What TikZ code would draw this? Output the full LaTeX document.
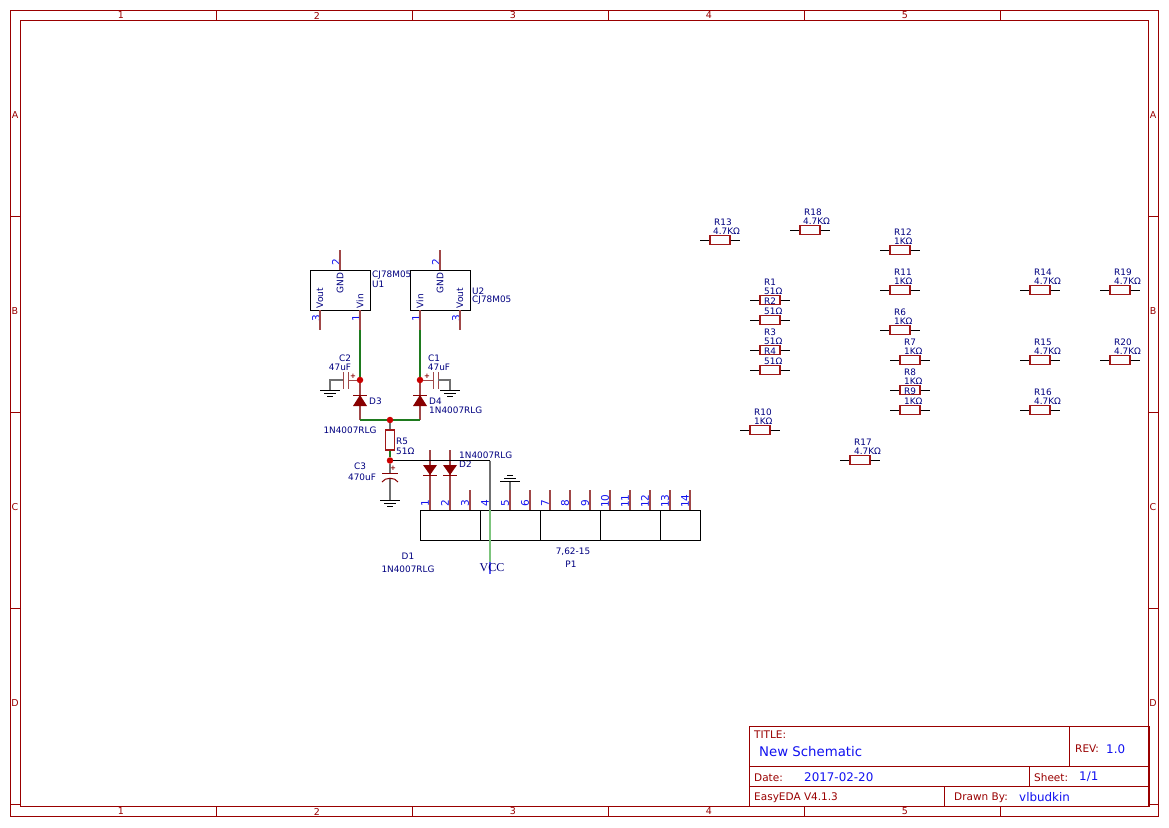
\documentclass[tikz,border=0pt]{standalone}
\usepackage{fontspec}
\setmainfont{DejaVu Sans}
\newfontfamily\vccfont{Liberation Serif}
\definecolor{framered}{HTML}{990000}
\definecolor{pinred}{HTML}{A04848}
\definecolor{partred}{HTML}{A01818}
\definecolor{diodered}{HTML}{880000}
\definecolor{wiregreen}{HTML}{1E7A1E}
\definecolor{wiregrey}{HTML}{707070}
\definecolor{vccgreen}{HTML}{7CC47C}
\definecolor{labelblue}{HTML}{000080}
\definecolor{pinblue}{HTML}{1010F0}
\tikzset{
  border/.style={draw=framered, line width=1pt},
  frametext/.style={text=framered, font=\fontsize{9.5}{11}\selectfont, inner sep=0pt},
  titletext/.style={text=framered, font=\fontsize{10.5}{12}\selectfont, inner sep=0pt, anchor=west},
  valuetext/.style={text=pinblue, font=\fontsize{11.9}{14}\selectfont, inner sep=0pt, anchor=west},
  lbl/.style={text=labelblue, font=\fontsize{8.9}{10}\selectfont, inner sep=0pt, anchor=west},
  clbl/.style={text=labelblue, font=\fontsize{8.9}{10}\selectfont, inner sep=0pt},
  rotlbl/.style={text=labelblue, font=\fontsize{9}{10}\selectfont, inner sep=0pt, rotate=90},
  pinnum/.style={text=pinblue, font=\fontsize{10.5}{12}\selectfont, inner sep=0pt, rotate=90},
  ic/.style={draw=black, line width=1pt, minimum width=60, minimum height=40, inner sep=0pt},
  slot/.style={draw=black, line width=1pt, minimum height=30, inner sep=0pt},
  res/.style={draw=partred, fill=white, line width=1.2pt, minimum width=20, minimum height=9, inner sep=0pt},
  vres/.style={draw=partred, fill=white, line width=1.2pt, minimum width=9, minimum height=20, inner sep=0pt},
  lead/.style={draw=black, line width=.8pt},
  pinline/.style={draw=pinred, line width=1.6pt},
  wire/.style={draw=wiregreen, line width=1.2pt},
  greywire/.style={draw=wiregrey, line width=1.4pt},
  blackwire/.style={draw=black, line width=.8pt},
  dot/.style={circle, fill=red!80!black, minimum size=6.5, inner sep=0pt},
  plate/.style={draw=pinred, line width=1pt},
  gnd/.style={draw=black, line width=.8pt},
  tri/.style={fill=diodered}
}
\begin{document}
\begin{tikzpicture}[x=1pt, y=-1pt]
  \useasboundingbox (0, 0) rectangle (1169, 827);

  % sheet frame
  \draw[border] (10, 10.5) rectangle (1158, 816.5);
  \draw[border] (20, 20.5) rectangle (1148.5, 806);
  \draw[border] (216, 10.5) -- (216, 20.5);
  \draw[border] (412, 10.5) -- (412, 20.5);
  \draw[border] (608, 10.5) -- (608, 20.5);
  \draw[border] (804, 10.5) -- (804, 20.5);
  \draw[border] (1000, 10.5) -- (1000, 20.5);
  \draw[border] (216, 806) -- (216, 816.5);
  \draw[border] (412, 806) -- (412, 816.5);
  \draw[border] (608, 806) -- (608, 816.5);
  \draw[border] (804, 806) -- (804, 816.5);
  \draw[border] (1000, 806) -- (1000, 816.5);
  \draw[border] (10, 216.5) -- (20, 216.5);
  \draw[border] (10, 412.5) -- (20, 412.5);
  \draw[border] (10, 608.5) -- (20, 608.5);
  \draw[border] (10, 804.5) -- (20, 804.5);
  \draw[border] (1148.5, 216.5) -- (1158, 216.5);
  \draw[border] (1148.5, 412.5) -- (1158, 412.5);
  \draw[border] (1148.5, 608.5) -- (1158, 608.5);
  \draw[border] (1148.5, 804.5) -- (1158, 804.5);

  \node[frametext] (t1) at (121, 15.5) {1};
  \node[frametext] (t2) at (317, 15.5) {2};
  \node[frametext] (t3) at (513, 15.5) {3};
  \node[frametext] (t4) at (709, 15.5) {4};
  \node[frametext] (t5) at (905, 15.5) {5};
  \node[frametext] (b1) at (121, 811.5) {1};
  \node[frametext] (b2) at (317, 811.5) {2};
  \node[frametext] (b3) at (513, 811.5) {3};
  \node[frametext] (b4) at (709, 811.5) {4};
  \node[frametext] (b5) at (905, 811.5) {5};
  \node[frametext] (la) at (15, 115) {A};
  \node[frametext] (lb) at (15, 311) {B};
  \node[frametext] (lc) at (15, 507) {C};
  \node[frametext] (ld) at (15, 703) {D};
  \node[frametext] (ra) at (1153, 115) {A};
  \node[frametext] (rb) at (1153, 311) {B};
  \node[frametext] (rc) at (1153, 507) {C};
  \node[frametext] (rd) at (1153, 703) {D};

  % title block
  \draw[border] (749, 726.5) rectangle (1149, 806);
  \draw[border] (749, 766.5) -- (1149, 766.5);
  \draw[border] (749, 786.5) -- (1149, 786.5);
  \draw[border] (1069, 726.5) -- (1069, 766.5);
  \draw[border] (1029, 766.5) -- (1029, 786.5);
  \draw[border] (944, 786.5) -- (944, 806);
  \node[titletext] (title) at (754, 735) {TITLE:};
  \node[valuetext, font=\fontsize{13.3}{15}\selectfont] (name) at (759, 752) {New Schematic};
  \node[titletext] (rev) at (1075, 749) {REV:};
  \node[valuetext] (revno) at (1106, 749) {1.0};
  \node[titletext] (date) at (754, 778) {Date:};
  \node[valuetext] (dateval) at (804, 777) {2017-02-20};
  \node[titletext] (sheet) at (1034, 778) {Sheet:};
  \node[valuetext] (sheetno) at (1079, 777) {1/1};
  \node[titletext] (eda) at (754, 798) {EasyEDA V4.1.3};
  \node[titletext] (drawn) at (954, 798) {Drawn By:};
  \node[valuetext] (author) at (1019, 797) {vlbudkin};

  % regulators
  \node[ic] (u1) at (340, 290) {};
  \node[ic] (u2) at (440, 290) {};
  \node[lbl] (u1v) at (372, 275) {CJ78M05};
  \node[lbl] (u1n) at (372, 284) {U1};
  \node[lbl] (u2n) at (472, 291) {U2};
  \node[lbl] (u2v) at (472, 300) {CJ78M05};
  \node[rotlbl] (u1gnd) at (340, 283) {GND};
  \node[rotlbl] (u1out) at (320, 298) {Vout};
  \node[rotlbl] (u1in) at (360, 301) {Vin};
  \node[rotlbl] (u2gnd) at (440, 283) {GND};
  \node[rotlbl] (u2in) at (420, 301) {Vin};
  \node[rotlbl] (u2out) at (460, 298) {Vout};
  \node[pinnum] (u1p2) at (336, 262) {2};
  \node[pinnum] (u1p3) at (316, 318) {3};
  \node[pinnum] (u1p1) at (356, 318) {1};
  \node[pinnum] (u2p2) at (436, 262) {2};
  \node[pinnum] (u2p1) at (416, 318) {1};
  \node[pinnum] (u2p3) at (456, 318) {3};
  \coordinate (u1a) at (340, 250);
  \coordinate (u1b) at (340, 270);
  \coordinate (u1c) at (320, 310);
  \coordinate (u1d) at (320, 330);
  \coordinate (u1e) at (360, 310);
  \coordinate (u1f) at (360, 330);
  \coordinate (u2a) at (440, 250);
  \coordinate (u2b) at (440, 270);
  \coordinate (u2c) at (420, 310);
  \coordinate (u2d) at (420, 330);
  \coordinate (u2e) at (460, 310);
  \coordinate (u2f) at (460, 330);
  \draw[pinline] (u1a) -- (u1b);
  \draw[pinline] (u1c) -- (u1d);
  \draw[pinline] (u1e) -- (u1f);
  \draw[pinline] (u2a) -- (u2b);
  \draw[pinline] (u2c) -- (u2d);
  \draw[pinline] (u2e) -- (u2f);

  % input side
  \coordinate (d3b) at (360, 420);
  \coordinate (d4b) at (420, 420);
  \coordinate (d3t) at (360, 380);
  \coordinate (d4t) at (420, 380);
  \coordinate (j3c) at (390, 420);
  \draw[wire] (u1f) -- (d3t);
  \draw[wire] (u2d) -- (d4t);
  \draw[pinline] (d3t) -- (d3b);
  \draw[pinline] (d4t) -- (d4b);
  \draw[wire] (d3b) -- (j3c);
  \draw[wire] (j3c) -- (d4b);
  \node[dot] (j1) at (d3t) {};
  \node[dot] (j2) at (d4t) {};
  \node[dot] (j3) at (j3c) {};
  \node[dot] (j4) at (390, 460.5) {};
  \fill[tri] (353, 406) -- (367, 406) -- (360, 395) -- cycle;
  \fill[tri] (413, 406) -- (427, 406) -- (420, 395) -- cycle;
  \draw[diodered, line width=1pt] (353, 395) -- (367, 395);
  \draw[diodered, line width=1pt] (413, 395) -- (427, 395);
  \node[lbl] (d3n) at (369, 401) {D3};
  \node[clbl] (d3v) at (350, 430) {1N4007RLG};
  \node[lbl] (d4n) at (429, 401) {D4};
  \node[lbl] (d4v) at (429, 410) {1N4007RLG};

  % smoothing caps
  \coordinate (c2a) at (348, 380);
  \coordinate (c2b) at (343, 380);
  \coordinate (c2c) at (330, 380);
  \coordinate (g2) at (330, 390);
  \coordinate (c1a) at (433, 380);
  \coordinate (c1b) at (438, 380);
  \coordinate (c1c) at (450, 380);
  \coordinate (g1) at (450, 390);
  \draw[pinline, line width=1pt] (j1) -- (c2a);
  \draw[plate] (c2a) ++(0, -8) -- ++(0, 17);
  \draw[plate] (c2b) ++(0, -8) -- ++(0, 17);
  \draw[greywire] (c2b) -- (c2c) -- (g2);
  \draw[pinline, line width=1pt] (j2) -- (c1a);
  \draw[plate] (c1a) ++(0, -8) -- ++(0, 17);
  \draw[plate] (c1b) ++(0, -8) -- ++(0, 17);
  \draw[greywire] (c1b) -- (c1c) -- (g1);
  \draw[gnd] (g2) ++(-10, 0) -- ++(20, 0) ++(-16, 3) -- ++(12, 0) ++(-9, 3) -- ++(6, 0);
  \draw[gnd] (g1) ++(-10, 0) -- ++(20, 0) ++(-16, 3) -- ++(12, 0) ++(-9, 3) -- ++(6, 0);
  \node[clbl, text=diodered] (c2p) at (353, 376) {\fontsize{7}{8}\selectfont\textbf{+}};
  \node[clbl, text=diodered] (c1p) at (427, 376) {\fontsize{7}{8}\selectfont\textbf{+}};
  \node[clbl] (c2n) at (345, 358) {C2};
  \node[clbl] (c2v) at (340, 367) {47uF};
  \node[clbl] (c1n) at (434, 358) {C1};
  \node[clbl] (c1v) at (439, 367) {47uF};

  % R5 and C3
  \node[vres] (r5) at (390, 440) {};
  \node[lbl] (r5n) at (396, 441) {R5};
  \node[lbl] (r5v) at (396, 451) {51Ω};
  \draw[greywire] (j3) -- (r5);
  \draw[wire] (r5) -- (j4);
  \coordinate (c3a) at (390, 473);
  \coordinate (c3b) at (390, 479);
  \coordinate (g3) at (390, 500);
  \draw[greywire] (j4) -- (c3a);
  \draw[greywire] (c3b) -- (g3);
  \draw[diodered, line width=1pt] (382, 473) -- (398, 473);
  \draw[diodered, line width=1pt] (382, 482) .. controls (385, 477) and (395, 477) .. (398, 482);
  \draw[gnd] (g3) ++(-10, 0) -- ++(20, 0) ++(-16, 3) -- ++(12, 0) ++(-9, 3) -- ++(6, 0);
  \node[clbl, text=diodered] (c3p) at (393, 468) {\fontsize{7}{8}\selectfont\textbf{+}};
  \node[clbl] (c3n) at (360, 466) {C3};
  \node[clbl] (c3v) at (362, 477) {470uF};

  % output connector
  \node[slot, minimum width=60] (s1) at (450, 525) {};
  \node[slot, minimum width=60] (s2) at (510, 525) {};
  \node[slot, minimum width=60] (s3) at (570, 525) {};
  \node[slot, minimum width=60] (s4) at (630, 525) {};
  \node[slot, minimum width=40] (s5) at (680, 525) {};
  \coordinate (d1t) at (430, 450);
  \coordinate (d1b) at (430, 510);
  \coordinate (d2t) at (450, 450);
  \coordinate (d2b) at (450, 510);
  \draw[pinline] (d1t) -- (d1b);
  \draw[pinline] (d2t) -- (d2b);
  \fill[tri] (423, 465) -- (437, 465) -- (430, 475) -- cycle;
  \fill[tri] (443, 465) -- (457, 465) -- (450, 475) -- cycle;
  \draw[diodered, line width=1pt] (423, 475) -- (437, 475);
  \draw[diodered, line width=1pt] (443, 475) -- (457, 475);
  \node[clbl] (d1n) at (408, 556) {D1};
  \node[clbl] (d1v) at (408, 569.5) {1N4007RLG};
  \node[lbl] (d2n) at (459, 464) {D2};
  \node[lbl] (d2v) at (459, 455) {1N4007RLG};
  \draw[pinline] (470, 490) -- (470, 510);
  \draw[pinline] (490, 490) -- (490, 510);
  \draw[pinline] (510, 490) -- (510, 510);
  \draw[pinline] (530, 490) -- (530, 510);
  \draw[pinline] (550, 490) -- (550, 510);
  \draw[pinline] (570, 490) -- (570, 510);
  \draw[pinline] (590, 490) -- (590, 510);
  \draw[pinline] (610, 490) -- (610, 510);
  \draw[pinline] (630, 490) -- (630, 510);
  \draw[pinline] (650, 490) -- (650, 510);
  \draw[pinline] (670, 490) -- (670, 510);
  \draw[pinline] (690, 490) -- (690, 510);
  \node[pinnum] (p1) at (425, 503) {1};
  \node[pinnum] (p2) at (445, 503) {2};
  \node[pinnum] (p3) at (465, 503) {3};
  \node[pinnum] (p4) at (485, 503) {4};
  \node[pinnum] (p5) at (505, 503) {5};
  \node[pinnum] (p6) at (525, 503) {6};
  \node[pinnum] (p7) at (545, 503) {7};
  \node[pinnum] (p8) at (565, 503) {8};
  \node[pinnum] (p9) at (585, 503) {9};
  \node[pinnum] (p10) at (605, 501) {10};
  \node[pinnum] (p11) at (625, 501) {11};
  \node[pinnum] (p12) at (645, 501) {12};
  \node[pinnum] (p13) at (665, 501) {13};
  \node[pinnum] (p14) at (685, 501) {14};
  \node[clbl] (p1v) at (573, 552) {7,62-15};
  \node[clbl] (p1n) at (571, 564) {P1};

  % vcc feed
  \coordinate (w1) at (490, 460.5);
  \coordinate (w3) at (490, 510);
  \coordinate (w4) at (490, 562);
  \coordinate (w5) at (490, 574);
  \draw[blackwire] (j4) -- (w1);
  \draw[greywire] (w1) -- (w3);
  \draw[vccgreen, line width=2pt] (w3) -- (w4);
  \draw[pinblue!70!white, line width=1.5pt] (w4) -- (w5);
  \node[clbl, font=\vccfont\fontsize{12}{13}\selectfont] (vcc) at (492, 568) {VCC};

  % ground on pin 5
  \coordinate (g5) at (510, 481);
  \coordinate (g5b) at (510, 490);
  \draw[greywire] (g5) -- (g5b);
  \draw[gnd] (g5) ++(-10, 0) -- ++(20, 0) ++(-16, -3) -- ++(12, 0) ++(-9, -3) -- ++(6, 0);

  % resistors
  \node[res] (r13) at (720, 240) {};
  \coordinate (r13a) at (700, 240); \coordinate (r13b) at (740, 240);
  \draw[lead] (r13a) -- (r13) -- (r13b);
  \node[lbl] (r13n) at (714, 222) {R13};
  \node[lbl] (r13v) at (713, 231) {4.7KΩ};

  \node[res] (r18) at (810, 230) {};
  \coordinate (r18a) at (790, 230); \coordinate (r18b) at (830, 230);
  \draw[lead] (r18a) -- (r18) -- (r18b);
  \node[lbl] (r18n) at (804, 212) {R18};
  \node[lbl] (r18v) at (803, 221) {4.7KΩ};

  \node[res] (r12) at (900, 250) {};
  \coordinate (r12a) at (880, 250); \coordinate (r12b) at (920, 250);
  \draw[lead] (r12a) -- (r12) -- (r12b);
  \node[lbl] (r12n) at (894, 232) {R12};
  \node[lbl] (r12v) at (894, 241) {1KΩ};

  \node[res] (r11) at (900, 290) {};
  \coordinate (r11a) at (880, 290); \coordinate (r11b) at (920, 290);
  \draw[lead] (r11a) -- (r11) -- (r11b);
  \node[lbl] (r11n) at (894, 272) {R11};
  \node[lbl] (r11v) at (894, 281) {1KΩ};

  \node[res] (r6) at (900, 330) {};
  \coordinate (r6a) at (880, 330); \coordinate (r6b) at (920, 330);
  \draw[lead] (r6a) -- (r6) -- (r6b);
  \node[lbl] (r6n) at (894, 312) {R6};
  \node[lbl] (r6v) at (894, 321) {1KΩ};

  \node[res] (r1) at (770, 300) {};
  \coordinate (r1a) at (750, 300); \coordinate (r1b) at (790, 300);
  \draw[lead] (r1a) -- (r1) -- (r1b);
  \node[lbl] (r1n) at (764, 282) {R1};
  \node[lbl] (r1v) at (764, 291) {51Ω};

  \node[res] (r2) at (770, 320) {};
  \coordinate (r2a) at (750, 320); \coordinate (r2b) at (790, 320);
  \draw[lead] (r2a) -- (r2) -- (r2b);
  \node[lbl] (r2n) at (764, 301) {R2};
  \node[lbl] (r2v) at (764, 311) {51Ω};

  \node[res] (r3) at (770, 350) {};
  \coordinate (r3a) at (750, 350); \coordinate (r3b) at (790, 350);
  \draw[lead] (r3a) -- (r3) -- (r3b);
  \node[lbl] (r3n) at (764, 332) {R3};
  \node[lbl] (r3v) at (764, 341) {51Ω};

  \node[res] (r4) at (770, 370) {};
  \coordinate (r4a) at (750, 370); \coordinate (r4b) at (790, 370);
  \draw[lead] (r4a) -- (r4) -- (r4b);
  \node[lbl] (r4n) at (764, 351) {R4};
  \node[lbl] (r4v) at (764, 361) {51Ω};

  \node[res] (r7) at (910, 360) {};
  \coordinate (r7a) at (890, 360); \coordinate (r7b) at (930, 360);
  \draw[lead] (r7a) -- (r7) -- (r7b);
  \node[lbl] (r7n) at (904, 342) {R7};
  \node[lbl] (r7v) at (904, 351) {1KΩ};

  \node[res] (r8) at (910, 390) {};
  \coordinate (r8a) at (890, 390); \coordinate (r8b) at (930, 390);
  \draw[lead] (r8a) -- (r8) -- (r8b);
  \node[lbl] (r8n) at (904, 372) {R8};
  \node[lbl] (r8v) at (904, 381) {1KΩ};

  \node[res] (r9) at (910, 410) {};
  \coordinate (r9a) at (890, 410); \coordinate (r9b) at (930, 410);
  \draw[lead] (r9a) -- (r9) -- (r9b);
  \node[lbl] (r9n) at (904, 391) {R9};
  \node[lbl] (r9v) at (904, 401) {1KΩ};

  \node[res] (r10) at (760, 430) {};
  \coordinate (r10a) at (740, 430); \coordinate (r10b) at (780, 430);
  \draw[lead] (r10a) -- (r10) -- (r10b);
  \node[lbl] (r10n) at (754, 412) {R10};
  \node[lbl] (r10v) at (754, 421) {1KΩ};

  \node[res] (r17) at (860, 460) {};
  \coordinate (r17a) at (840, 460); \coordinate (r17b) at (880, 460);
  \draw[lead] (r17a) -- (r17) -- (r17b);
  \node[lbl] (r17n) at (854, 442) {R17};
  \node[lbl] (r17v) at (854, 451) {4.7KΩ};

  \node[res] (r14) at (1040, 290) {};
  \coordinate (r14a) at (1020, 290); \coordinate (r14b) at (1060, 290);
  \draw[lead] (r14a) -- (r14) -- (r14b);
  \node[lbl] (r14n) at (1034, 272) {R14};
  \node[lbl] (r14v) at (1034, 281) {4.7KΩ};

  \node[res] (r15) at (1040, 360) {};
  \coordinate (r15a) at (1020, 360); \coordinate (r15b) at (1060, 360);
  \draw[lead] (r15a) -- (r15) -- (r15b);
  \node[lbl] (r15n) at (1034, 342) {R15};
  \node[lbl] (r15v) at (1034, 351) {4.7KΩ};

  \node[res] (r16) at (1040, 410) {};
  \coordinate (r16a) at (1020, 410); \coordinate (r16b) at (1060, 410);
  \draw[lead] (r16a) -- (r16) -- (r16b);
  \node[lbl] (r16n) at (1034, 392) {R16};
  \node[lbl] (r16v) at (1034, 401) {4.7KΩ};

  \node[res] (r19) at (1120, 290) {};
  \coordinate (r19a) at (1100, 290); \coordinate (r19b) at (1140, 290);
  \draw[lead] (r19a) -- (r19) -- (r19b);
  \node[lbl] (r19n) at (1114, 272) {R19};
  \node[lbl] (r19v) at (1114, 281) {4.7KΩ};

  \node[res] (r20) at (1120, 360) {};
  \coordinate (r20a) at (1100, 360); \coordinate (r20b) at (1140, 360);
  \draw[lead] (r20a) -- (r20) -- (r20b);
  \node[lbl] (r20n) at (1114, 342) {R20};
  \node[lbl] (r20v) at (1114, 351) {4.7KΩ};
\end{tikzpicture}
\end{document}
